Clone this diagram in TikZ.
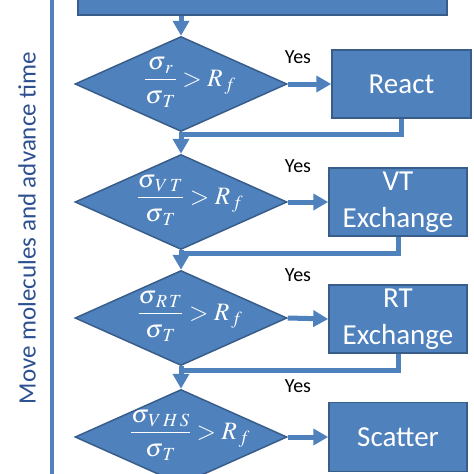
\documentclass[tikz,border=0pt]{standalone}
\usepackage{amsmath}
\usepackage{mathptmx}
\usepackage[no-math]{fontspec}
\setmainfont{Carlito}
\usetikzlibrary{shapes.geometric,arrows.meta}
\definecolor{boxblue}{RGB}{79,129,189}
\definecolor{edgeblue}{RGB}{56,93,138}
\definecolor{textblue}{RGB}{45,80,145}

\begin{document}
\begin{tikzpicture}[x=1pt,y=-1pt,
		proc_style/.style={rectangle,draw=edgeblue,line width=1.5pt,fill=boxblue,text=white,inner sep=0pt,
			minimum width=138pt,minimum height=68pt,align=center,font=\fontsize{29}{37}\selectfont},
		dec_style/.style={diamond,draw=edgeblue,line width=1.5pt,fill=boxblue,inner sep=0pt,
			minimum width=212pt,minimum height=95pt},
		math_style/.style={text=white,inner sep=0pt,xshift=9pt,yshift=2pt,font=\fontsize{25}{30}\selectfont},
		yes_style/.style={font=\fontsize{20}{24}\selectfont,inner sep=0pt},
		line_style/.style={draw=boxblue,line width=5pt},
		arrow_style/.style={draw=boxblue,line width=5pt,-{Triangle[width=16pt,length=15pt]}}]
		
		\clip (0,0) rectangle (474,474);
		\useasboundingbox (0,0) rectangle (474,474);
		
		% loop back line and its label
		\coordinate (loop_top) at (52,0);
		\coordinate (loop_bot) at (52,474);
		\draw[line_style,line width=4pt] (loop_top) -- (loop_bot);
		\node[rotate=90,text=textblue,font=\fontsize{25}{28}\selectfont] (loop) at (27,228) {Move molecules and advance time};
		
		\node[proc_style,minimum width=369pt,minimum height=60pt] (init) at (262.5,-15) {};
		
		% the four tests
		\node[dec_style,label={[math_style]center:$\displaystyle\frac{\sigma_{\,r}}{\sigma_{\,T}} > R_{\,f}$}] (d1) at (181,84) {};
		\node[dec_style,label={[math_style]center:$\displaystyle\frac{\sigma_{\,V\,T}}{\sigma_{\,T}} > R_{\,f}$}] (d2) at (181,202) {};
		\node[dec_style,label={[math_style]center:$\displaystyle\frac{\sigma_{\,R\,T}}{\sigma_{\,T}} > R_{\,f}$}] (d3) at (181,318) {};
		\node[dec_style,label={[math_style]center:$\displaystyle\frac{\sigma_{\,V\,H\,S}}{\sigma_{\,T}} > R_{\,f}$}] (d4) at (181,437) {};
		
		\node[proc_style,minimum width=139pt] (react) at (401.5,84) {React};
		\node[proc_style] (vt) at (398,202) {VT\\Exchange};
		\node[proc_style] (rt) at (398,319) {RT\\Exchange};
		\node[proc_style,minimum height=69pt] (scatter) at (398,437) {Scatter};
		
		\node[yes_style] (yes1) at (298,57) {Yes};
		\node[yes_style] (yes2) at (298,166) {Yes};
		\node[yes_style] (yes3) at (298,275) {Yes};
		\node[yes_style] (yes4) at (298,386) {Yes};
		
		\coordinate (j1) at (181,134);
		\coordinate (j2) at (181,253);
		\coordinate (j3) at (181,370);
		
		\draw[arrow_style] (init.south -| d1.north) -- (d1.north);
		\draw[arrow_style] (d1.east) -- (react.west);
		\draw[arrow_style] (d2.east) -- (vt.west);
		\draw[arrow_style] (d3.east) -- (rt.west);
		\draw[arrow_style] (d4.east) -- (scatter.west);
		
		\draw[line_style] (react.south) |- (j1);
		\draw[line_style] (vt.south) |- (j2);
		\draw[line_style] (rt.south) |- (j3);
		
		\draw[arrow_style] (d1.south) -- (d2.north);
		\draw[arrow_style] (d2.south) -- (d3.north);
		\draw[arrow_style] (d3.south) -- (d4.north);
		
\end{tikzpicture}
\end{document}
